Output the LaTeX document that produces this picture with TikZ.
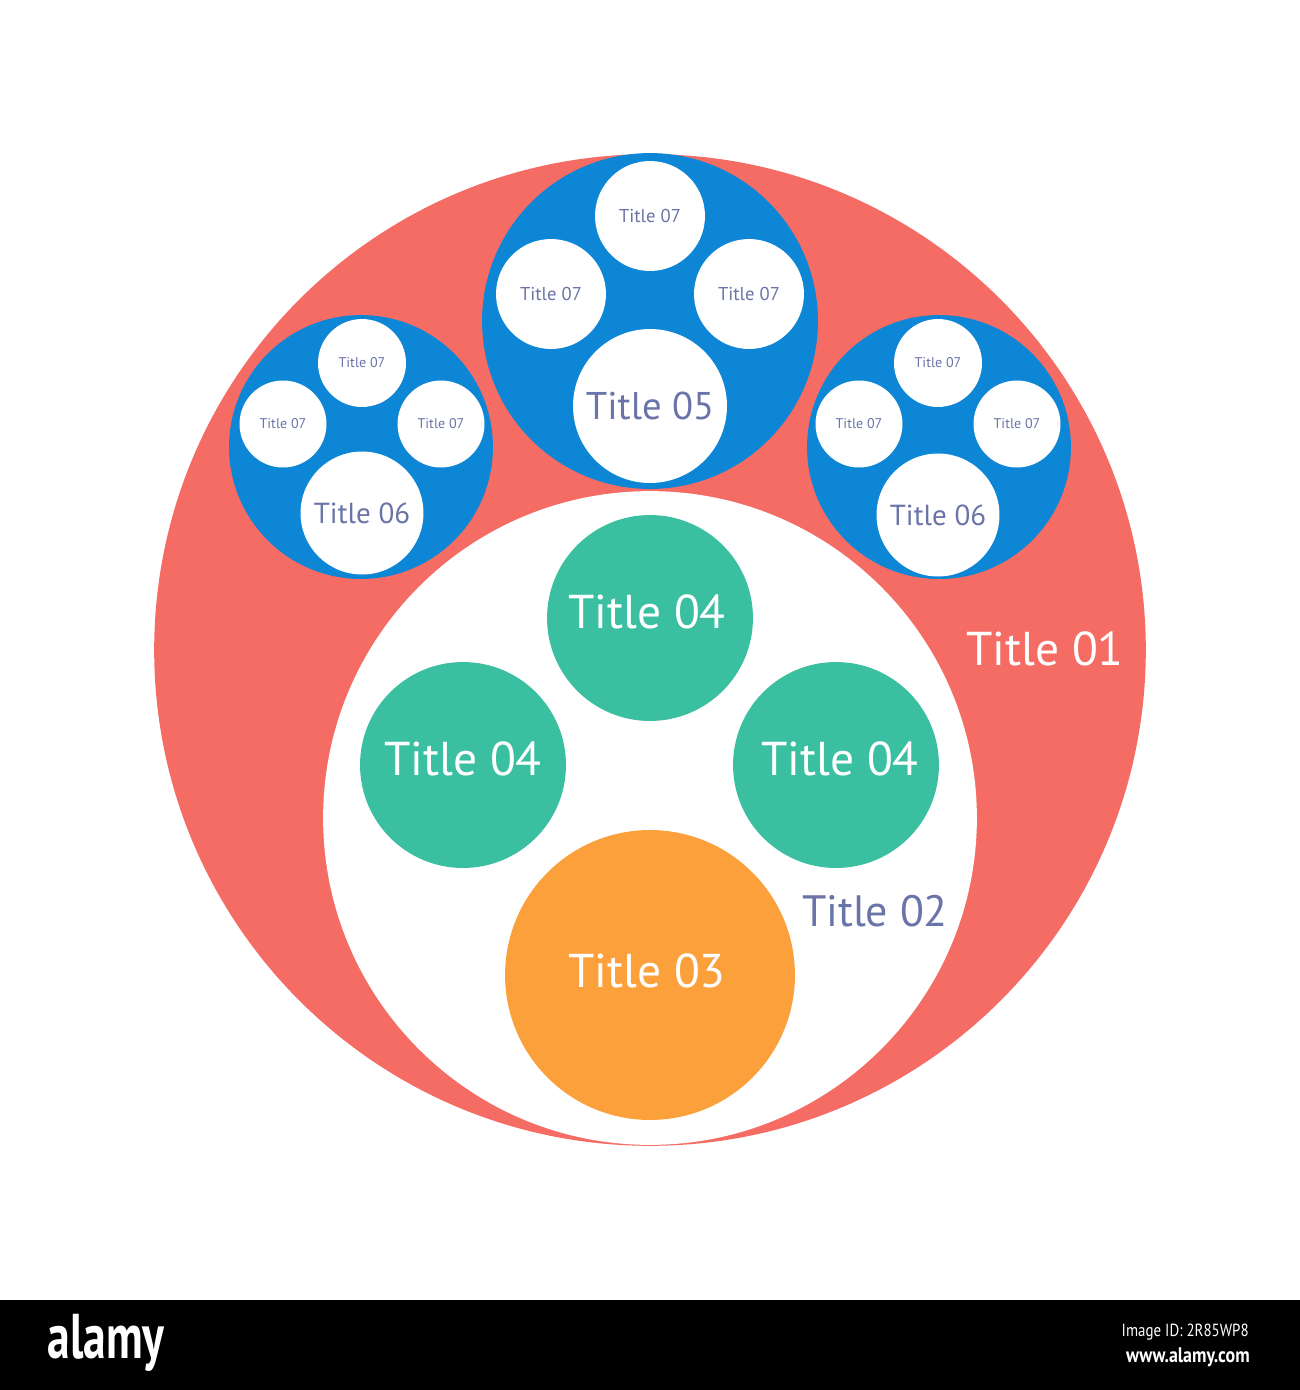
\documentclass[tikz,border=0pt]{standalone}
\usepackage{fontspec}
\setmainfont{PT Sans}
\definecolor{cred}{HTML}{F46C64}
\definecolor{cblue}{HTML}{0E86D6}
\definecolor{cgreen}{HTML}{3BBFA1}
\definecolor{corange}{HTML}{FBA03B}
\definecolor{cslate}{HTML}{6B74A8}
\begin{document}
\begin{tikzpicture}[x=0.02cm,y=-0.02cm,
  disc/.style={circle,inner sep=0pt,minimum size=#1*0.04cm},
  wdisc/.style={disc=#1,fill=white,text=cslate},
  bdisc/.style={disc=#1,fill=cblue},
  gdisc/.style={disc=#1,fill=cgreen},
  bigtxt/.style={text=white,font=\fontsize{27}{30}\selectfont},
  small/.style={font=\fontsize{8}{10}\selectfont},
  mid/.style={font=\fontsize{10.6}{12}\selectfont},
]
\useasboundingbox (0,0) rectangle (1300,1390);
\fill[white] (0,0) rectangle (1300,1390);
% outer circle
\node[disc=496,fill=cred] (outer) at (650,650) {};
\node[disc=327,fill=white] (inner) at (650,818) {};
% top blue
\node[bdisc=168] (b5) at (650,321) {};
\node[wdisc=55,mid] (b5t) at (650,216) {Title 07};
\node[wdisc=55,mid] (b5l) at (551,294) {Title 07};
\node[wdisc=55,mid] (b5r) at (749,294) {Title 07};
\node[wdisc=77,font=\fontsize{22}{24}\selectfont] (t5) at (650,406) {Title 05};
% left blue
\node[bdisc=132] (b6a) at (361,447) {};
\node[wdisc=44,small] (b6at) at (362,363) {Title 07};
\node[wdisc=43.5,small] (b6al) at (283,424) {Title 07};
\node[wdisc=43.5,small] (b6ar) at (441,424) {Title 07};
\node[wdisc=61.5,font=\fontsize{16.5}{18}\selectfont] (t6a) at (362,513) {Title 06};
% right blue
\node[bdisc=132] (b6b) at (939,447) {};
\node[wdisc=44,small] (b6bt) at (938,363) {Title 07};
\node[wdisc=43.5,small] (b6bl) at (859,424) {Title 07};
\node[wdisc=43.5,small] (b6br) at (1017,424) {Title 07};
\node[wdisc=61.5,font=\fontsize{16.5}{18}\selectfont] (t6b) at (938,515) {Title 06};
% green
\node[gdisc=103] (g1) at (650,618) {};
\node[gdisc=103] (g2) at (463,765) {};
\node[gdisc=103] (g3) at (836,765) {};
\node[bigtxt] (g1t) at (647,612) {Title 04};
\node[bigtxt] (g2t) at (463,759) {Title 04};
\node[bigtxt] (g3t) at (840,759) {Title 04};
% orange
\node[disc=145,fill=corange] (o) at (650,975) {};
\node[bigtxt] (ot) at (647,971) {Title 03};
% labels
\node[bigtxt] (l1) at (1045,649) {Title 01};
\node[text=cslate,font=\fontsize{25}{28}\selectfont] (l2) at (875,911) {Title 02};
% bottom bar
\fill[black] (0,1300) rectangle (1300,1390);
\node[text=white,font=\bfseries\fontsize{36}{38}\selectfont,inner sep=0pt,xscale=0.72] (al) at (106,1343) {alamy};
\node[text=white,font=\fontsize{10}{12}\selectfont,anchor=east,inner sep=0pt,xscale=0.85] (id) at (1249,1332) {Image ID: 2R85WP8};
\node[text=white,font=\bfseries\fontsize{12}{14}\selectfont,anchor=east,inner sep=0pt,xscale=0.85] (www) at (1250,1357) {www.alamy.com};
\end{tikzpicture}
\end{document}
